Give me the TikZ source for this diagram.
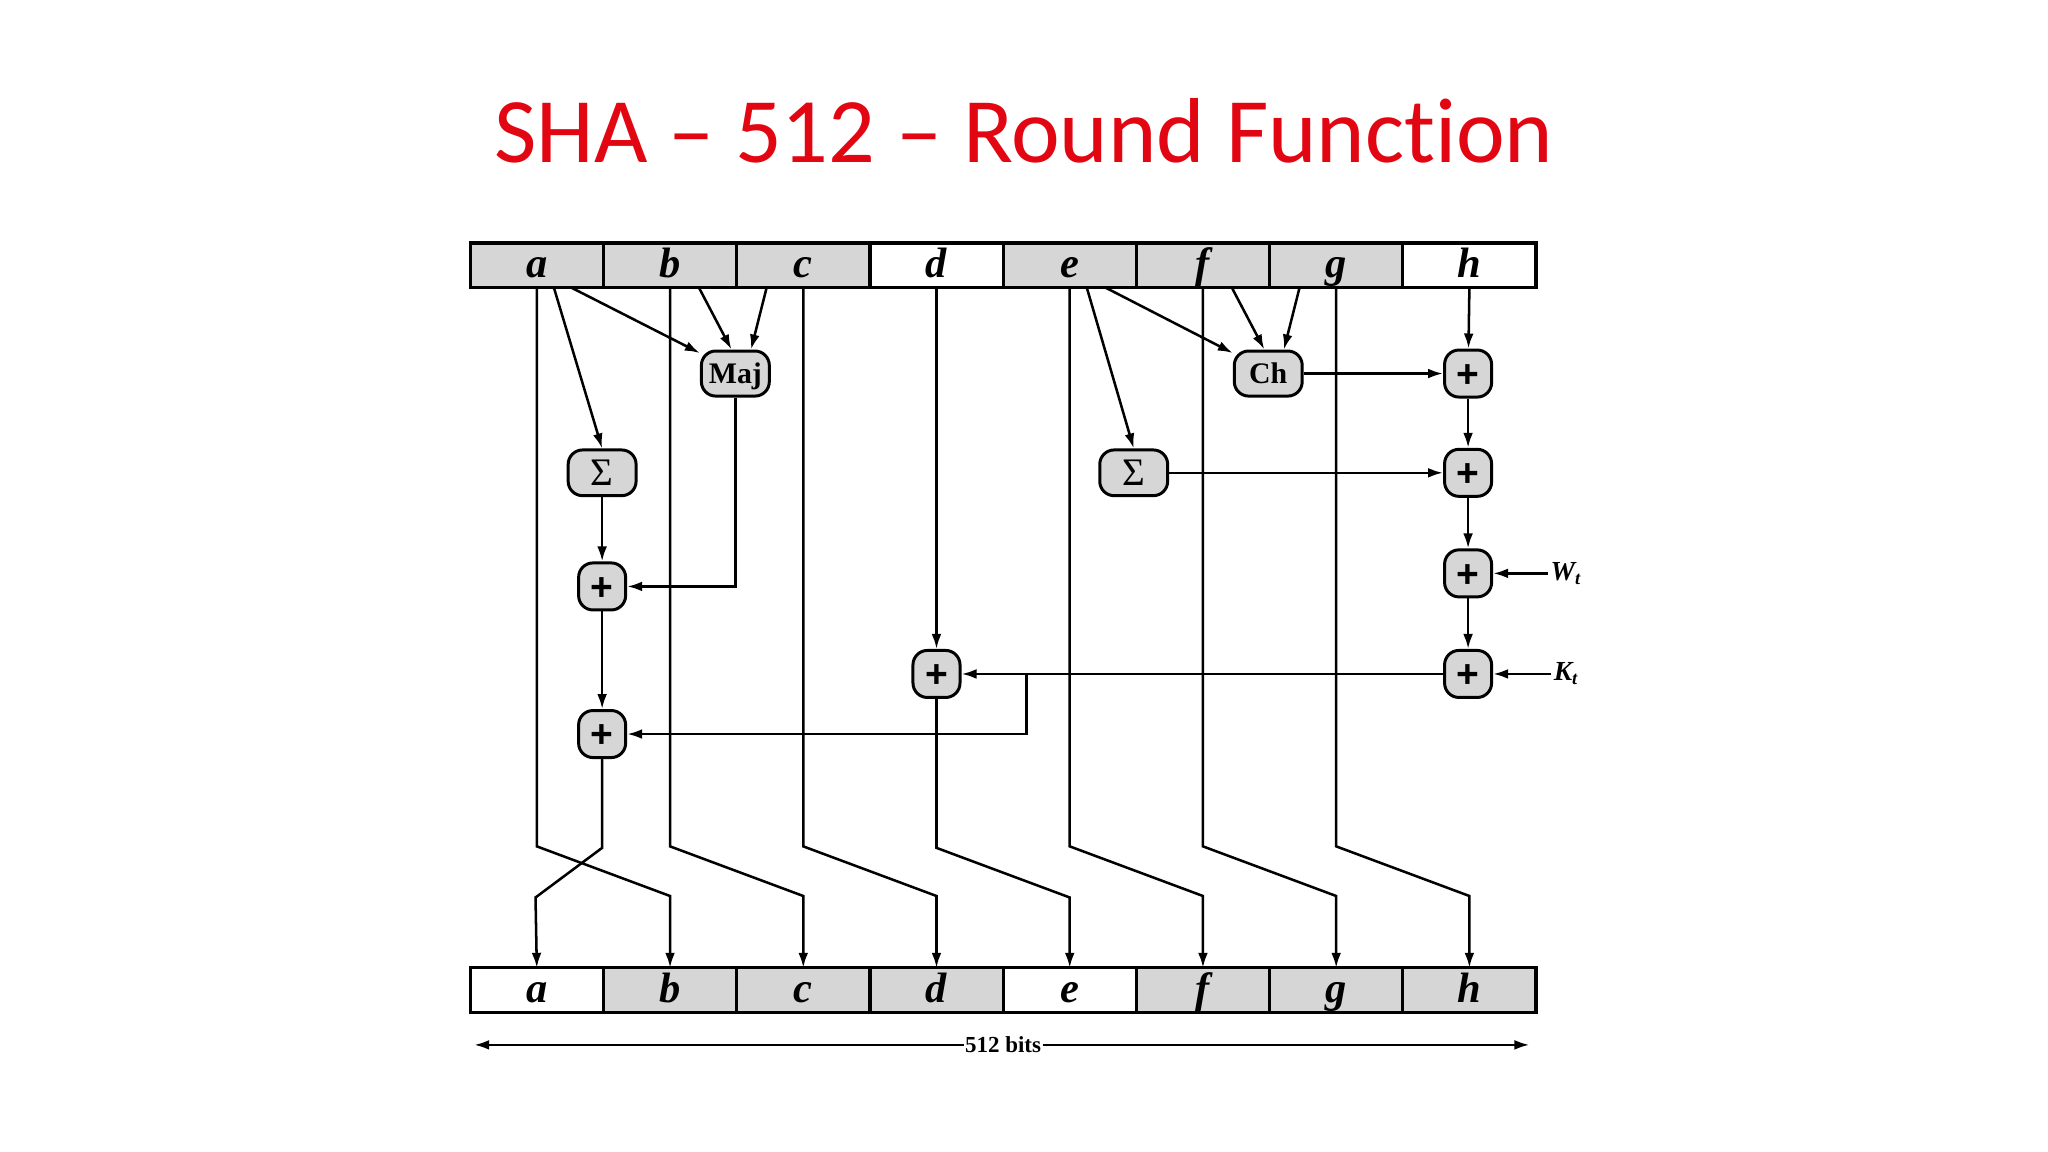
\documentclass[tikz,border=0pt]{standalone}
\usepackage{fontspec}
\setmainfont{Liberation Serif}
\newfontfamily\titlefont[Ligatures=NoCommon]{Carlito}
\newfontfamily\plusfont{Liberation Sans}
\usetikzlibrary{positioning,arrows.meta}
\definecolor{titlered}{RGB}{226,6,19}
\definecolor{boxgray}{RGB}{214,214,214}

\begin{document}
\begin{tikzpicture}[x=0.2mm, y=-0.2mm,
    reg/.style = {draw, line width=1.4pt, minimum width=20.4mm, minimum height=6.8mm, inner sep=0pt, outer sep=0pt,
                  text height=4.3mm, text depth=0.5mm, font=\fontsize{18.5}{20}\selectfont\bfseries\itshape},
    shade/.style = {reg, fill=boxgray},
    func/.style = {draw, line width=1.3pt, fill=boxgray, rounded corners=2.2mm, minimum width=10.4mm, minimum height=6.9mm,
                   inner sep=0pt, text height=3.7mm, text depth=0.5mm, font=\fontsize{13}{15}\selectfont\bfseries},
    sig/.style = {func, minimum height=7mm, text height=4.5mm, font=\fontsize{17}{17}\selectfont},
    adder/.style = {func, minimum width=7.2mm, minimum height=7.2mm, text height=4.6mm, text depth=0.4mm,
                    font=\plusfont\fontsize{17}{17}\selectfont\bfseries},
    lbl/.style = {inner sep=1pt, font=\fontsize{12}{12}\selectfont\bfseries\itshape},
    arr/.style = {-{Latex[length=2.3mm,width=1.5mm]}, line width=1.1pt}]
    \useasboundingbox (0,0) rectangle (1568,882);
    \fill[white] (0,0) rectangle (1568,882);

    \node[text=titlered, font=\titlefont\fontsize{40.2}{48}\selectfont] (title) at (784,100) {SHA – 512 – Round Function};

    % top register
    \node[shade] (ta) at (411,203) {a};
    \node[shade, right=0pt of ta] (tb) {b};
    \node[shade, right=0pt of tb] (tc) {c};
    \node[reg, right=0pt of tc] (td) {d};
    \node[shade, right=0pt of td] (te) {e};
    \node[shade, right=0pt of te] (tf) {f};
    \node[shade, right=0pt of tf] (tg) {g};
    \node[reg, right=0pt of tg] (th) {h};

    % bottom register
    \node[reg] (ba) at (411,758) {a};
    \node[shade, right=0pt of ba] (bb) {b};
    \node[shade, right=0pt of bb] (bc) {c};
    \node[shade, right=0pt of bc] (bd) {d};
    \node[reg, right=0pt of bd] (be) {e};
    \node[shade, right=0pt of be] (bf) {f};
    \node[shade, right=0pt of bf] (bg) {g};
    \node[shade, right=0pt of bg] (bh) {h};

    % functions and adders
    \node[func] (maj) at (563,286) {Maj};
    \node[sig] (sa) at (461,362) {Σ};
    \node[func] (ch) at (971,286) {Ch};
    \node[sig] (se) at (868,362) {Σ};
    \node[adder] (a1) at (461,449) {+};
    \node[adder] (a2) at (461,562) {+};
    \node[adder] (ad) at (717,516) {+};
    \node[adder] (h1) at (1124,286) {+};
    \node[adder] (h2) at (1124,362) {+};
    \node[adder] (h3) at (1124,439) {+};
    \node[adder] (h4) at (1124,516) {+};
    \node[lbl] (wt) at (1199,439) {W\textsubscript{t}};
    \node[lbl] (kt) at (1199,516) {K\textsubscript{t}};

    % shifted words
    \draw[arr] (ta.south) -- ++(0,428) -- ++(102,38) -- (bb.north);
    \draw[arr] (tb.south) -- ++(0,428) -- ++(102,38) -- (bc.north);
    \draw[arr] (tc.south) -- ++(0,428) -- ++(102,38) -- (bd.north);
    \draw[arr] (te.south) -- ++(0,428) -- ++(102,38) -- (bf.north);
    \draw[arr] (tf.south) -- ++(0,428) -- ++(102,38) -- (bg.north);
    \draw[arr] (tg.south) -- ++(0,428) -- ++(102,38) -- (bh.north);
    \draw[arr] (td.south) -- (ad);
    \draw[arr] (ad.south) -- ++(0,114) -- ++(102,38) -- (be.north);
    \draw[arr] (a2.south) -- ++(0,68) -- ++(-51,38) -- (ba.north);

    % a side
    \draw[arr] ([xshift=2.6mm]ta.south) -- (sa.north);
    \draw[arr] ([xshift=5.2mm]ta.south) -- (maj.150);
    \draw[arr] ([xshift=4.4mm]tb.south) -- ([xshift=-0.6mm]maj.north);
    \draw[arr] ([xshift=-5.6mm]tc.south) -- ([xshift=2.4mm]maj.north);
    \draw[arr] (maj.south) |- (a1);
    \draw[arr] (sa) -- (a1);
    \draw[arr] (a1) -- (a2);

    % e side
    \draw[arr] ([xshift=2.6mm]te.south) -- (se.north);
    \draw[arr] ([xshift=5.4mm]te.south) -- (ch.150);
    \draw[arr] ([xshift=4.4mm]tf.south) -- ([xshift=-0.6mm]ch.north);
    \draw[arr] ([xshift=-5.6mm]tg.south) -- ([xshift=2.4mm]ch.north);
    \draw[arr] (ch) -- (h1);
    \draw[arr] (se) -- (h2);

    % h chain
    \draw[arr] (th.south) -- (h1);
    \draw[arr] (h1) -- (h2);
    \draw[arr] (h2) -- (h3);
    \draw[arr] (h3) -- (h4);
    \draw[arr] (wt) -- (h3);
    \draw[arr] (kt) -- (h4);
    \draw[arr] (h4) -- (ad);
    \coordinate (split) at (786,516);
    \draw[arr] (split) |- (a2);

    % width
    \coordinate (lft) at (363,800);
    \coordinate (rgt) at (1171,800);
    \node[fill=white, inner sep=0.5pt, font=\fontsize{10}{10}\selectfont\bfseries] (bits) at (768,800) {512 bits};
    \draw[arr] (bits) -- (lft);
    \draw[arr] (bits) -- (rgt);
\end{tikzpicture}
\end{document}
